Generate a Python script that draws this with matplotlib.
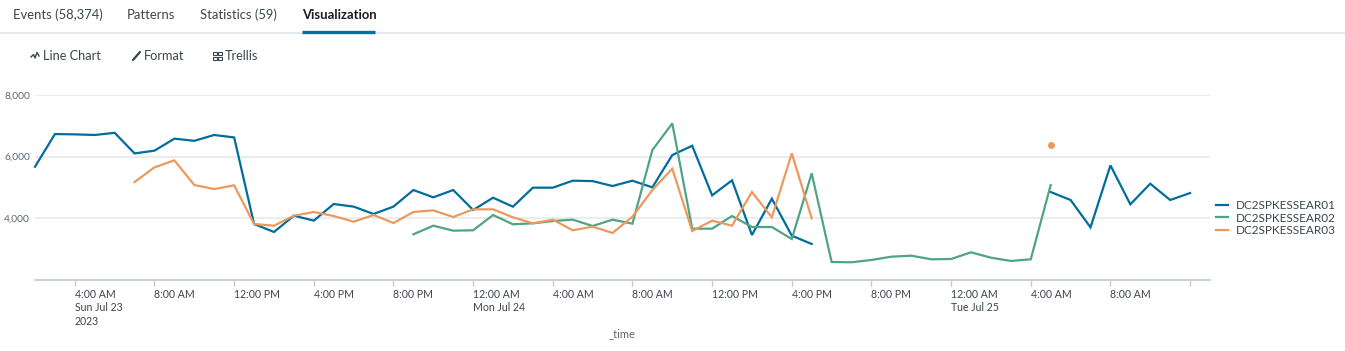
import numpy as np
import pandas as pd
import matplotlib
matplotlib.use("Agg")
import matplotlib.pyplot as plt
from matplotlib.lines import Line2D
from matplotlib.patches import Rectangle

plt.rcParams['font.family'] = ['Lato', 'DejaVu Sans']

# ---------------- data ----------------
start_time = "2023-07-23 02:00"
n_buckets = 59

series_names = ["DC2SPKESSEAR01", "DC2SPKESSEAR02", "DC2SPKESSEAR03"]
series_colors = ["#006d9c", "#4fa484", "#ec9960"]

dc01 = [5667, 6730, 6720, 6700, 6770, 6100, 6190, 6580, 6510, 6700,
        6620, 3805, 3545, 4075, 3915, 4455, 4370, 4130, 4370, 4910,
        4672, 4910, 4260, 4660, 4368, 4986, 4986, 5213, 5200, 5040,
        5213, 4997, 6047, 6350, 4737, 5225, 3447, 4628, 3425, 3155] + \
       [None] * 11 + \
       [4845, 4585, 3697, 5712, 4445, 5115, 4585, 4812]

dc02 = [None] * 19 + \
       [3470, 3750, 3588, 3600, 4097, 3795, 3827, 3902, 3946, 3740,
        3946, 3816, 6210, 7077, 3653, 3653, 4065, 3707, 3707, 3317,
        5452, 2570, 2560, 2635, 2742, 2775, 2657, 2667, 2884, 2710,
        2602, 2657, 5072] + \
       [None] * 7

dc03 = [None] * 5 + \
       [5170, 5647, 5875, 5072, 4942, 5062, 3805, 3750, 4075, 4195,
        4065, 3880, 4097, 3837, 4195, 4249, 4032, 4282, 4282, 4022,
        3827, 3946, 3600, 3718, 3512, 4043, 4910, 5603, 3577, 3913,
        3750, 4845, 4022, 6102, 3990] + \
       [None] * 11 + [6362] + [None] * 7

y_ticks = [4000, 6000, 8000]
y_tick_labels = ["4,000", "6,000", "8,000"]

x_tick_times = pd.date_range("2023-07-23 04:00", "2023-07-25 12:00", freq="4h")
x_tick_labels = ["4:00 AM\nSun Jul 23\n2023", "8:00 AM", "12:00 PM", "4:00 PM", "8:00 PM",
                 "12:00 AM\nMon Jul 24", "4:00 AM", "8:00 AM", "12:00 PM", "4:00 PM",
                 "8:00 PM", "12:00 AM\nTue Jul 25", "4:00 AM", "8:00 AM", ""]

tabs = ["Events (58,374)", "Patterns", "Statistics (59)", "Visualization"]
toolbar = ["Line Chart", "Format", "Trellis"]

# ---------------- figure ----------------
W, H = 1345, 351
fig = plt.figure(figsize=(W / 100, H / 100), dpi=100)
fig.patch.set_facecolor("white")


def fx(x):
    return x / W


def fy(y):
    return 1 - y / H


# tabs
tab_x = [13, 127, 200, 302]
for t, x in zip(tabs, tab_x):
    bold = t == "Visualization"
    fig.text(fx(x), fy(15), t, fontsize=9.4, color="#171d21" if bold else "#3c444d",
             fontweight="bold" if bold else "normal", va="center", ha="left")
fig.add_artist(Line2D([0, 1], [fy(33), fy(33)], color="#e1e6eb", lw=1.2))
fig.add_artist(Line2D([fx(302), fx(375)], [fy(31.5), fy(31.5)], color="#006eaa", lw=2.4,
                      solid_capstyle="butt"))

# toolbar
tb_x = [43, 144, 225]
for t, x in zip(toolbar, tb_x):
    fig.text(fx(x), fy(56), t, fontsize=9.2, color="#3c444d", va="center", ha="left")
# line chart icon
fig.add_artist(Line2D([fx(31), fx(33.5), fx(35), fx(37), fx(39)],
                      [fy(57), fy(54.5), fy(58), fy(52.5), fy(56)], color="#3c444d", lw=1.0))
# format (brush) icon
fig.add_artist(Line2D([fx(133), fx(140)], [fy(60), fy(52)], color="#3c444d", lw=1.6,
                      solid_capstyle="round"))
# trellis icon
for dx in (0, 5):
    for dy in (0, 5):
        fig.add_artist(Rectangle((fx(213 + dx), fy(60 - dy)), 3.5 / W, 3.5 / H,
                                 fill=False, edgecolor="#3c444d", lw=0.8))

# ---------------- axes ----------------
ax = fig.add_axes([fx(35), fy(279.5), fx(1210) - fx(35), fy(95) - fy(279.5)])
times = pd.date_range(start_time, periods=n_buckets, freq="h")
x_end = times[0] + pd.Timedelta(hours=n_buckets)

handles = []
for name, col, vals in zip(series_names, series_colors, [dc01, dc02, dc03]):
    v = np.array([np.nan if a is None else a for a in vals], dtype=float)
    ln, = ax.plot(times, v, color=col, lw=1.6, label=name, clip_on=False,
                  solid_joinstyle="miter")
    handles.append(ln)
    # isolated points shown as dots
    ok = ~np.isnan(v)
    prev_ok = np.r_[False, ok[:-1]]
    next_ok = np.r_[ok[1:], False]
    iso = ok & ~prev_ok & ~next_ok
    if iso.any():
        ax.plot(times[iso], v[iso], "o", color=col, ms=5, mec="none", clip_on=False)

ax.set_xlim(times[0], x_end)
ax.set_ylim(2000, 8000)
ax.set_yticks(y_ticks)
ax.set_yticklabels(y_tick_labels)
ax.set_xticks(x_tick_times)
ax.set_xticklabels(x_tick_labels, ha="left", va="top", linespacing=1.25)

ax.grid(axis="y", color="#e8ebee", lw=1.3)
ax.set_axisbelow(True)
for s in ("top", "right", "left"):
    ax.spines[s].set_visible(False)
ax.spines["bottom"].set_color("#c3cbd4")
ax.spines["bottom"].set_linewidth(1.3)
ax.tick_params(axis="y", length=0, pad=3.5, labelsize=7.4, labelcolor="#5c6773")
ax.tick_params(axis="x", length=4, width=1, color="#c3cbd4", pad=3, labelsize=7.6,
               labelcolor="#3c444d")
ax.set_facecolor("white")

fig.text(fx(622), fy(334), "_time", fontsize=8, color="#5c6773", ha="center", va="center")

# legend
fig.legend(handles=handles, labels=series_names, loc="center left",
           bbox_to_anchor=(fx(1216), fy(218)), frameon=False, fontsize=8.5,
           handlelength=1.0, handletextpad=0.7, labelspacing=0.12, borderpad=0,
           borderaxespad=0, labelcolor="#3c444d")

fig.savefig("out.png", dpi=100, facecolor="white")
